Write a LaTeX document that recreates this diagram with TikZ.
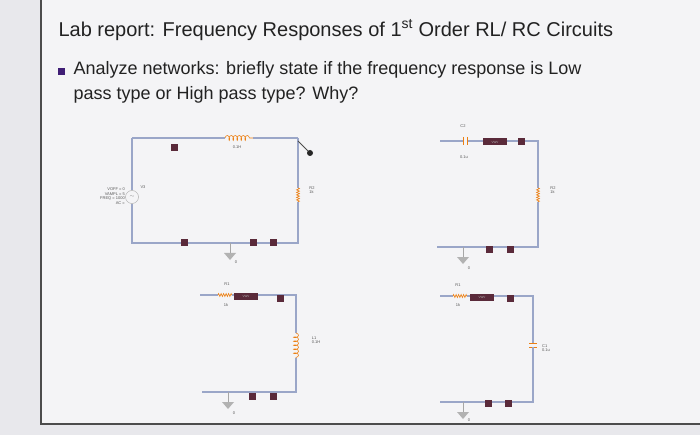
\documentclass[tikz,border=0pt]{standalone}
\usepackage{fontspec}
\setmainfont{Liberation Sans}
\usetikzlibrary{decorations.pathmorphing}
\definecolor{bg}{HTML}{E8E8EC}
\definecolor{wire}{HTML}{9AA6C8}
\definecolor{mk}{HTML}{5A2A3A}
\definecolor{tx}{HTML}{222222}
\tikzset{
 wirel/.style={wire,line width=1.1pt},
 mkbox/.style={fill=mk,draw=none,minimum width=7pt,minimum height=7pt,inner sep=0pt},
 mkwide/.style={fill=mk,draw=none,minimum width=24pt,minimum height=7pt,inner sep=0pt,text=gray!60,font=\fontsize{3}{3}\selectfont},
 lbl/.style={font=\fontsize{4}{4.5}\selectfont,text=gray!70!black,inner sep=0pt,align=left},
 res/.style={decorate,decoration={zigzag,segment length=2.5pt,amplitude=1.5pt},draw=orange!70!brown,line width=0.6pt},
 ind/.style={decorate,decoration={coil,aspect=0.5,segment length=4pt,amplitude=2.5pt},draw=orange!70!brown,line width=0.6pt}
}
\newcommand{\gndsym}[2]{%
 \draw[gray!70,line width=0.8pt] (#1,#2) -- (#1,#2+10);
 \fill[gray!60] (#1-6,#2+10) -- (#1+6,#2+10) -- (#1,#2+17) -- cycle;}
\begin{document}
\begin{tikzpicture}[x=1pt,y=-1pt]
\useasboundingbox (0,0) rectangle (700,435);
\fill[bg] (0,0) rectangle (700,435);
\fill[white!50!bg] (42,0) rectangle (700,423);
\draw[gray!60!black,line width=1.5pt] (41,0) -- (41,424) -- (700,424);
\node[anchor=west,font=\fontsize{20}{24}\selectfont,text=tx] (title) at (55,30)
 {Lab report: Frequency Responses of 1\textsuperscript{st} Order RL/ RC Circuits};
\node[fill=mk!70!blue,minimum size=7pt,inner sep=0pt] (bul) at (61,72) {};
\node[anchor=north west,font=\fontsize{18}{25}\selectfont,text=tx,align=left] (q) at (70,58)
 {Analyze networks: briefly state if the frequency response is Low\\pass type or High pass type? Why?};
% ---------- circuit 1
\coordinate (a1) at (132,138); \coordinate (b1) at (298,138);
\coordinate (c1) at (298,243); \coordinate (d1) at (132,243);
\draw[wirel] (a1) -- (225,138); \draw[wirel] (253,138) -- (b1);
\draw[ind] (225,138) -- (253,138);
\draw[wirel] (b1) -- (298,188); \draw[res] (298,188) -- (298,202); \draw[wirel] (298,202) -- (c1) -- (d1) -- (132,204);
\draw[wirel] (132,190) -- (a1);
\node[draw=gray!70,circle,minimum size=13pt,inner sep=0pt,font=\tiny,text=gray] (v3) at (132,197) {$\sim$};
\node[lbl] at (143,187) {V3};
\node[lbl,anchor=north east,align=right] at (125,188) {VOFF = 0\\VAMPL = 5\\FREQ = 1000\\AC =};
\node[lbl] at (237,147) {0.1H};
\node[lbl] at (312,190) {R2\\1k};
\draw[gray!60!black,line width=0.8pt] (298,141) -- (309,152);
\fill[gray!30!black] (310,153) circle (3pt);
\node[mkbox] at (174,148) {}; \node[mkbox] at (184,243) {};
\node[mkbox] at (253,243) {}; \node[mkbox] at (273,243) {};
\gndsym{230}{243}
\node[lbl] at (236,262) {0};
% ---------- circuit 2
\coordinate (a2) at (440,141); \coordinate (b2) at (538,141);
\coordinate (c2) at (538,247); \coordinate (d2) at (437,247);
\draw[wirel] (a2) -- (463,141); \draw[wirel] (467,141) -- (b2) -- (538,188);
\draw[orange!70!brown,line width=0.6pt] (463,137) -- (463,145) (467,137) -- (467,145);
\draw[res] (538,188) -- (538,202); \draw[wirel] (538,202) -- (c2) -- (d2);
\node[lbl] at (463,126) {C2}; \node[lbl] at (464,157) {0.1u};
\node[lbl] at (553,190) {R2\\1k};
\node[mkwide] at (495,142) {VWV}; \node[mkbox] at (521,142) {};
\node[mkbox] at (489,250) {}; \node[mkbox] at (510,250) {};
\gndsym{463}{247}
\node[lbl] at (469,268) {0};
% ---------- circuit 3
\coordinate (a3) at (200,295); \coordinate (b3) at (296,295);
\coordinate (c3) at (296,392); \coordinate (d3) at (202,392);
\draw[wirel] (a3) -- (218,295); \draw[res] (218,295) -- (232,295);
\draw[wirel] (232,295) -- (b3) -- (296,333); \draw[ind] (296,333) -- (296,358);
\draw[wirel] (296,358) -- (c3) -- (d3);
\node[lbl] at (227,284) {R1}; \node[lbl] at (226,305) {1k};
\node[lbl] at (316,340) {L1\\0.1H};
\node[mkwide] at (246,296) {VWV}; \node[mkbox] at (280,298) {};
\node[mkbox] at (252,396) {}; \node[mkbox] at (273,396) {};
\gndsym{228}{392}
\node[lbl] at (234,413) {0};
% ---------- circuit 4
\coordinate (a4) at (440,296); \coordinate (b4) at (533,296);
\coordinate (c4) at (533,402); \coordinate (d4) at (440,402);
\draw[wirel] (a4) -- (453,296); \draw[res] (453,296) -- (467,296);
\draw[wirel] (467,296) -- (b4) -- (533,343);
\draw[orange!70!brown,line width=0.6pt] (529,343) -- (537,343) (529,347) -- (537,347);
\draw[wirel] (533,347) -- (c4) -- (d4);
\node[lbl] at (458,285) {R1}; \node[lbl] at (458,305) {1k};
\node[lbl] at (546,348) {C1\\0.1u};
\node[mkwide] at (482,297) {VWV}; \node[mkbox] at (510,298) {};
\node[mkbox] at (488,403) {}; \node[mkbox] at (508,403) {};
\gndsym{463}{402}
\node[lbl] at (469,420) {0};
\end{tikzpicture}
\end{document}
